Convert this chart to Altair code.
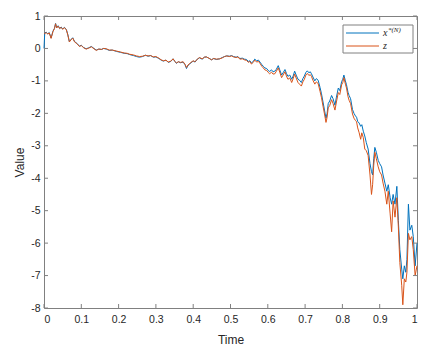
import altair as alt
import pandas as pd

time = [0.000, 0.002, 0.006, 0.010, 0.014, 0.019, 0.024, 0.028, 0.031, 0.034,
        0.038, 0.042, 0.046, 0.050, 0.055, 0.060, 0.064, 0.068, 0.072, 0.077,
        0.082, 0.088, 0.095, 0.100, 0.106, 0.113, 0.120, 0.127, 0.134, 0.140,
        0.147, 0.154, 0.160, 0.167, 0.175, 0.183, 0.194, 0.205, 0.215, 0.223,
        0.230, 0.240, 0.248, 0.256, 0.264, 0.272, 0.279, 0.286, 0.293, 0.300,
        0.308, 0.314, 0.320, 0.327, 0.333, 0.340, 0.346, 0.351, 0.355, 0.360,
        0.366, 0.373, 0.378, 0.382, 0.386, 0.389, 0.394, 0.400, 0.405, 0.411,
        0.417, 0.424, 0.430, 0.435, 0.442, 0.449, 0.455, 0.462, 0.471, 0.478,
        0.484, 0.490, 0.497, 0.503, 0.508, 0.515, 0.520, 0.525, 0.532, 0.537,
        0.543, 0.548, 0.552, 0.556, 0.561, 0.565, 0.570, 0.575, 0.579, 0.584,
        0.588, 0.592, 0.597, 0.601, 0.605, 0.610, 0.614, 0.619, 0.623, 0.628,
        0.632, 0.637, 0.641, 0.646, 0.650, 0.654, 0.659, 0.664, 0.668, 0.672,
        0.676, 0.681, 0.685, 0.690, 0.694, 0.698, 0.702, 0.706, 0.710, 0.714,
        0.717, 0.721, 0.726, 0.730, 0.735, 0.740, 0.744, 0.748, 0.752, 0.756,
        0.759, 0.762, 0.766, 0.771, 0.775, 0.780, 0.784, 0.789, 0.793, 0.798,
        0.801, 0.804, 0.808, 0.811, 0.815, 0.818, 0.822, 0.827, 0.831, 0.835,
        0.838, 0.841, 0.845, 0.849, 0.852, 0.856, 0.860, 0.864, 0.869, 0.874,
        0.878, 0.881, 0.884, 0.887, 0.891, 0.896, 0.900, 0.905, 0.909, 0.914,
        0.919, 0.923, 0.928, 0.932, 0.936, 0.941, 0.946, 0.950, 0.954, 0.959,
        0.962, 0.966, 0.970, 0.973, 0.977, 0.981, 0.986, 0.990, 0.995, 1.000]

x_star = [0.00, 0.48, 0.50, 0.45, 0.49, 0.32, 0.53, 0.62, 0.77, 0.64,
          0.70, 0.62, 0.66, 0.60, 0.65, 0.58, 0.42, 0.21, 0.27, 0.33,
          0.21, 0.16, 0.07, 0.10, 0.03, -0.01, 0.02, 0.06, 0.00, -0.05,
          -0.02, -0.03, 0.00, -0.02, -0.06, -0.05, -0.09, -0.12, -0.15, -0.16,
          -0.19, -0.22, -0.25, -0.27, -0.25, -0.21, -0.24, -0.22, -0.27, -0.26,
          -0.31, -0.36, -0.39, -0.36, -0.43, -0.40, -0.32, -0.40, -0.46, -0.41,
          -0.44, -0.42, -0.50, -0.62, -0.52, -0.50, -0.44, -0.39, -0.42, -0.33,
          -0.29, -0.33, -0.27, -0.26, -0.30, -0.35, -0.31, -0.34, -0.32, -0.28,
          -0.25, -0.23, -0.24, -0.22, -0.25, -0.27, -0.25, -0.31, -0.30, -0.33,
          -0.34, -0.40, -0.38, -0.45, -0.40, -0.33, -0.38, -0.36, -0.42, -0.50,
          -0.55, -0.60, -0.62, -0.68, -0.71, -0.66, -0.72, -0.70, -0.64, -0.53,
          -0.66, -0.82, -0.75, -0.65, -0.77, -0.86, -0.82, -0.95, -0.85, -0.70,
          -0.82, -0.95, -0.98, -1.05, -0.93, -0.85, -0.74, -0.69, -0.75, -0.72,
          -0.78, -0.88, -1.00, -0.93, -0.98, -1.20, -1.40, -1.65, -1.90, -2.15,
          -2.00, -1.70, -1.62, -1.45, -1.55, -1.75, -1.50, -1.22, -1.30, -1.02,
          -0.95, -0.82, -1.00, -1.12, -1.35, -1.45, -1.55, -1.88, -2.00, -2.08,
          -2.12, -2.25, -2.30, -2.40, -2.35, -2.55, -2.70, -2.90, -3.10, -3.55,
          -3.80, -3.90, -3.40, -3.05, -3.20, -3.45, -3.55, -3.65, -3.90, -4.15,
          -4.40, -4.20, -4.60, -4.80, -4.50, -4.80, -4.25, -5.30, -6.20, -6.80,
          -7.10, -6.70, -6.90, -6.50, -4.80, -5.60, -5.45, -5.80, -6.70, -6.00]

z_vals = [0.45, 0.46, 0.49, 0.44, 0.48, 0.31, 0.52, 0.61, 0.76, 0.63,
          0.69, 0.61, 0.65, 0.59, 0.64, 0.57, 0.41, 0.20, 0.26, 0.32,
          0.20, 0.15, 0.06, 0.09, 0.02, -0.02, 0.01, 0.05, -0.01, -0.06,
          -0.02, -0.03, 0.00, -0.01, -0.05, -0.05, -0.08, -0.11, -0.14, -0.15,
          -0.18, -0.20, -0.23, -0.25, -0.24, -0.21, -0.23, -0.22, -0.26, -0.25,
          -0.30, -0.35, -0.38, -0.36, -0.42, -0.39, -0.32, -0.40, -0.45, -0.41,
          -0.43, -0.41, -0.49, -0.59, -0.51, -0.48, -0.43, -0.38, -0.41, -0.33,
          -0.28, -0.32, -0.27, -0.26, -0.30, -0.35, -0.31, -0.33, -0.32, -0.29,
          -0.25, -0.23, -0.25, -0.23, -0.26, -0.28, -0.26, -0.33, -0.32, -0.35,
          -0.37, -0.43, -0.40, -0.48, -0.43, -0.36, -0.42, -0.40, -0.46, -0.55,
          -0.60, -0.66, -0.68, -0.74, -0.78, -0.73, -0.79, -0.78, -0.70, -0.60,
          -0.73, -0.90, -0.82, -0.72, -0.85, -0.95, -0.91, -1.05, -0.93, -0.79,
          -0.91, -1.05, -1.10, -1.16, -1.03, -0.95, -0.82, -0.77, -0.83, -0.81,
          -0.86, -0.98, -1.10, -1.03, -1.08, -1.32, -1.52, -1.78, -2.02, -2.28,
          -2.12, -1.83, -1.76, -1.58, -1.70, -1.90, -1.65, -1.36, -1.42, -1.12,
          -1.05, -0.90, -1.10, -1.22, -1.48, -1.60, -1.70, -2.02, -2.15, -2.22,
          -2.26, -2.45, -2.60, -2.80, -2.60, -2.75, -3.10, -3.15, -3.30, -3.90,
          -4.50, -4.20, -3.60, -3.20, -3.40, -3.65, -3.80, -3.90, -4.15, -4.40,
          -4.80, -4.40, -5.10, -5.65, -4.70, -5.20, -4.60, -5.50, -6.60, -7.30,
          -7.90, -7.10, -7.20, -6.90, -5.70, -5.90, -5.80, -6.20, -7.00, -6.70]

series_names = ["x*(N)", "z"]
series_colors = ["#0072BD", "#D95319"]

x_ticks = [0, 0.1, 0.2, 0.3, 0.4, 0.5, 0.6, 0.7, 0.8, 0.9, 1]
y_ticks = [-8, -7, -6, -5, -4, -3, -2, -1, 0, 1]

n = len(time)
df = pd.DataFrame({
    "Time": time + time,
    "Value": x_star + z_vals,
    "Series": [series_names[0]] * n + [series_names[1]] * n,
})
xt = pd.DataFrame({"Time": x_ticks})
yt = pd.DataFrame({"Value": y_ticks})

W, H = 373, 292
xscale = alt.Scale(domain=[0, 1], nice=False, zero=False)
yscale = alt.Scale(domain=[-8, 1], nice=False, zero=False)
frame = "#808080"
txt = "#262626"

x_axis = alt.Axis(values=x_ticks, labelExpr="toString(datum.value)",
                  labelOverlap=False, labelPadding=6, labelFontWeight="normal",
                  titleY=31, titleBaseline="middle", titleFontWeight="normal")
y_axis = alt.Axis(values=y_ticks, labelExpr="toString(datum.value)",
                  labelOverlap=False, labelPadding=4, labelFontWeight="normal",
                  titleX=-25, titleY=H / 2, titleFontWeight="normal",
                  titleAngle=270, titleBaseline="middle", titleAlign="center")

def X():
    return alt.X("Time:Q", scale=xscale, title="Time", axis=x_axis)

def Y():
    return alt.Y("Value:Q", scale=yscale, title="Value", axis=y_axis)

lines = alt.Chart(df).mark_line(strokeWidth=1).encode(
    x=X(), y=Y(),
    color=alt.Color("Series:N",
                    scale=alt.Scale(domain=series_names, range=series_colors),
                    legend=None),
)

bottom = alt.Chart(xt).mark_rule(color=frame, strokeWidth=1).encode(
    x=X(), y=alt.value(H), y2=alt.value(H - 4))
top = alt.Chart(xt).mark_rule(color=frame, strokeWidth=1).encode(
    x=X(), y=alt.value(0), y2=alt.value(4))
left = alt.Chart(yt).mark_rule(color=frame, strokeWidth=1).encode(
    y=Y(), x=alt.value(0), x2=alt.value(4))
right = alt.Chart(yt).mark_rule(color=frame, strokeWidth=1).encode(
    y=Y(), x=alt.value(W), x2=alt.value(W - 4))

# legend (drawn as decorations)
one = pd.DataFrame({"k": [0]})
leg_box = alt.Chart(one).mark_rect(fill="white", stroke=frame, strokeWidth=1).encode(
    x=alt.value(299), x2=alt.value(369), y=alt.value(9), y2=alt.value(37))
leg_l1 = alt.Chart(one).mark_rule(color=series_colors[0], strokeWidth=1).encode(
    x=alt.value(302), x2=alt.value(335), y=alt.value(17))
leg_l2 = alt.Chart(one).mark_rule(color=series_colors[1], strokeWidth=1).encode(
    x=alt.value(302), x2=alt.value(335), y=alt.value(30))
leg_t1 = alt.Chart(one).mark_text(
    font="Liberation Serif", fontStyle="italic", fontSize=10, color=txt,
    align="left", baseline="alphabetic").encode(
    x=alt.value(339), y=alt.value(20), text=alt.value("x"))
leg_t1s = alt.Chart(one).mark_text(
    font="Liberation Serif", fontStyle="italic", fontSize=7, color=txt,
    align="left", baseline="alphabetic").encode(
    x=alt.value(344), y=alt.value(15.5), text=alt.value("*(N)"))
leg_t2 = alt.Chart(one).mark_text(
    font="Liberation Serif", fontStyle="italic", fontSize=10, color=txt,
    align="left", baseline="alphabetic").encode(
    x=alt.value(339), y=alt.value(33), text=alt.value("z"))

chart = alt.layer(lines, bottom, top, left, right,
                  leg_box, leg_l1, leg_l2, leg_t1, leg_t1s, leg_t2).properties(
    width=W, height=H,
    autosize=alt.AutoSizeParams(type="none"),
    padding={"left": 44, "top": 16, "right": 26, "bottom": 45},
    background="white",
).configure_view(
    stroke=frame, strokeWidth=1
).configure_axis(
    domain=False, ticks=False, grid=False,
    labelFont="Liberation Sans", labelFontSize=10.5, labelColor=txt,
    titleFont="Liberation Sans", titleFontSize=12, titleColor=txt,
    titleFontWeight="normal",
)

chart.save("out.html", embed_options={"renderer": "svg", "actions": False})
